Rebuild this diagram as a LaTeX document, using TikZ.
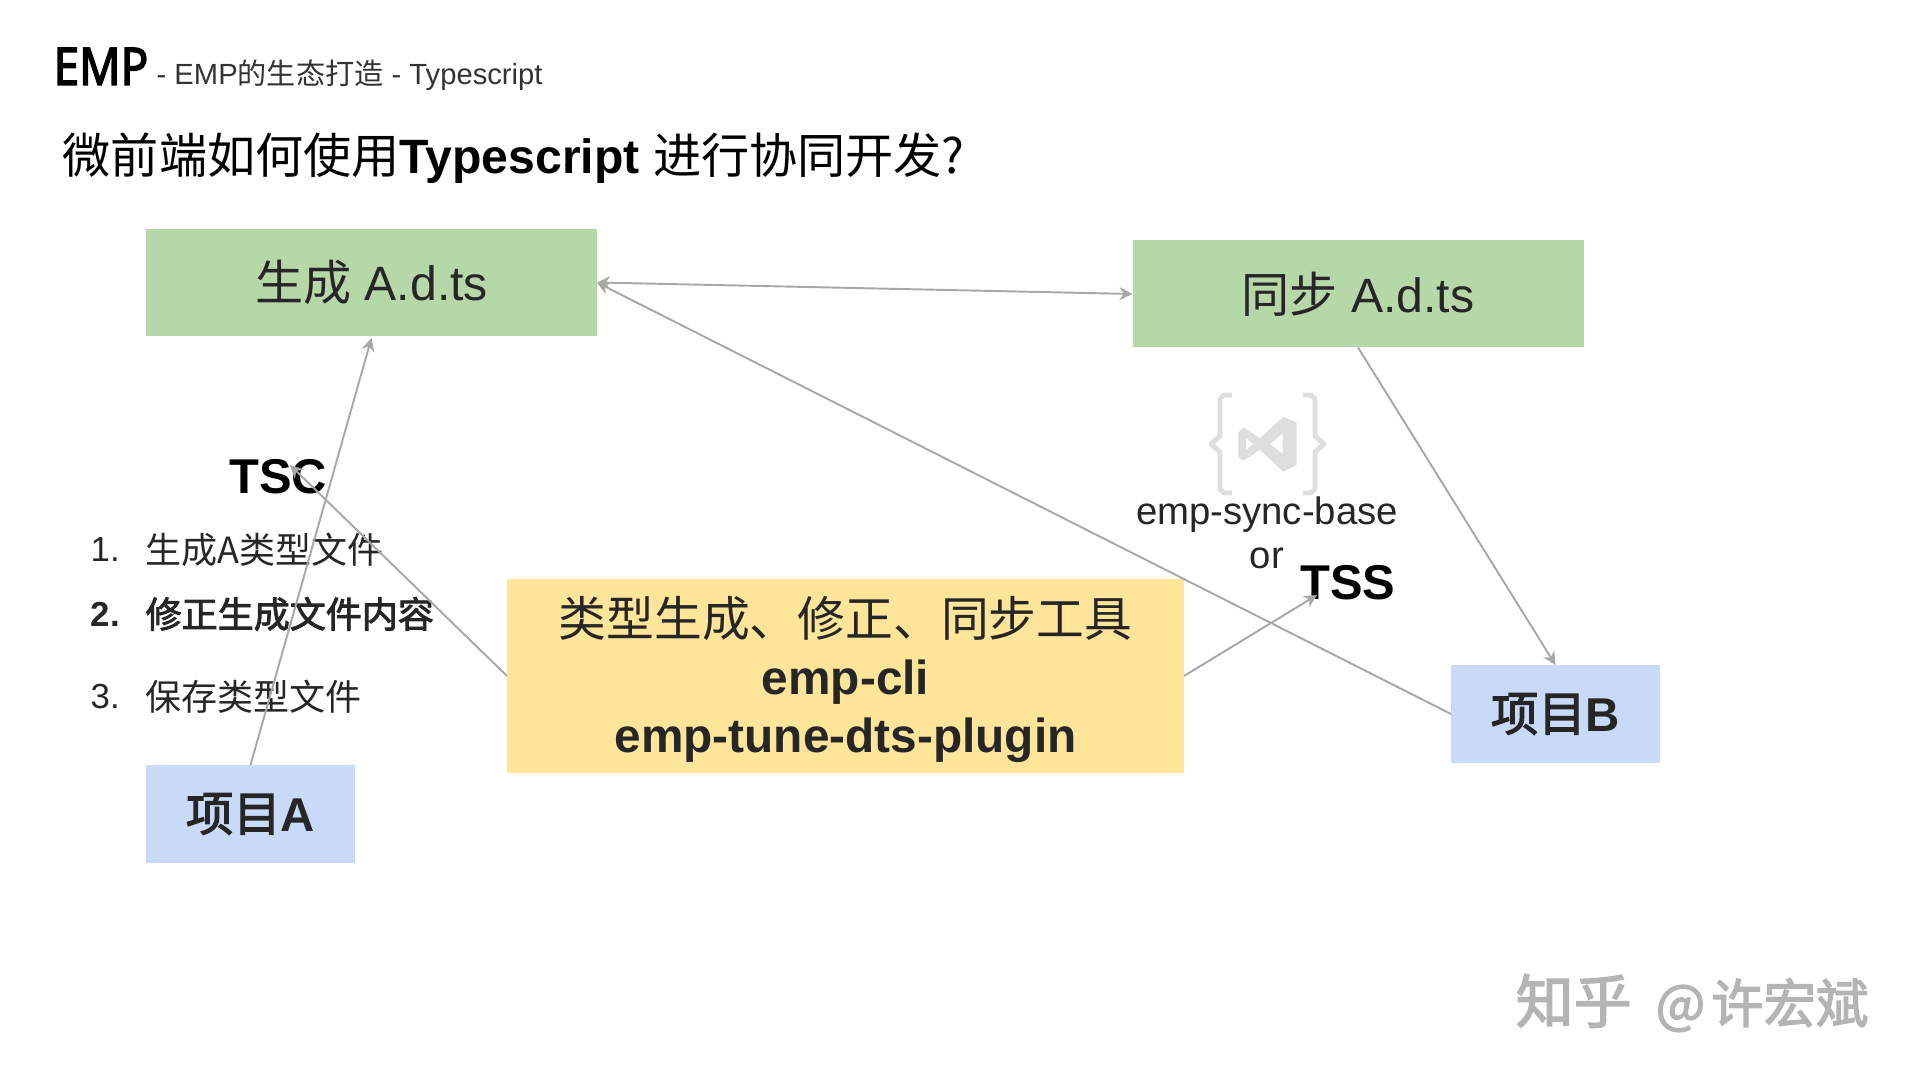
\documentclass[tikz,border=0pt]{standalone}
\usepackage{fontspec}
\usetikzlibrary{arrows.meta}
\setmainfont{Liberation Sans}
\newfontfamily\cjk{Noto Sans CJK SC}
\newfontfamily\cjkb[FakeBold=2.5]{Noto Sans CJK SC}
\newfontfamily\headfont[FakeStretch=0.88,FakeBold=2.5]{Noto Sans}
\definecolor{genGreen}{HTML}{B6D7A8}
\definecolor{toolYellow}{HTML}{FFE599}
\definecolor{projBlue}{HTML}{C9DAF8}
\definecolor{connGray}{HTML}{A8A8A8}
\definecolor{iconGray}{HTML}{DEDEDE}
\definecolor{markGray}{HTML}{B4B4B4}
\tikzset{
    box/.style = {inner sep = 0, outer sep = 0, text = black!85},
    genbox/.style = {box, fill = genGreen, minimum width = 4.51cm, minimum height = 1.07cm, font = \fontsize{13.7}{16}\selectfont},
    projbox/.style = {box, fill = projBlue, minimum width = 2.09cm, minimum height = 0.98cm, font = \fontsize{13.5}{15}\selectfont},
    conn/.style = {draw = connGray, line width = 0.55pt, >={Stealth[length = 1.3mm, width = 1.3mm]}},
    listitem/.style = {anchor = west, inner sep = 0, font = \fontsize{10.25}{12}\selectfont, text = black!85},
    listnum/.style = {listitem, font = \fontsize{9.9}{12}\selectfont}
}
\begin{document}
\begin{tikzpicture}
    \useasboundingbox (0,0) rectangle (19.2,10.8);
    % heading
    \node[anchor = base west, inner sep = 0] (emp) at (0.53,9.95) {\headfont\fontsize{14.8}{16}\selectfont EMP};
    \node[anchor = base west, inner sep = 0, text = black!80] (sub) at (1.56,9.95) {\fontsize{8.3}{10}\selectfont - EMP{\cjk 的生态打造} - Typescript};
    \node[anchor = west, inner sep = 0] (title) at (0.62,9.215) {\fontsize{13.7}{16}\selectfont {\cjk 微前端如何使用}\textbf{Typescript} {\cjk 进行协同开发?}};
    % boxes
    \node[genbox] (gen) at (3.715,7.975) {{\cjk 生成} A.d.ts};
    \node[genbox] (sync) at (13.58,7.86) {{\cjk 同步} A.d.ts};
    \node[box, fill = toolYellow, minimum width = 6.77cm, minimum height = 1.94cm, align = center, font = \fontsize{13.6}{16.6}\selectfont] (tool) at (8.455,4.04)
        {\rule{0pt}{13.5pt}{\cjk 类型生成、修正、同步工具}\\\textbf{emp-cli}\\\textbf{emp-tune-dts-plugin}};
    \node[projbox] (projA) at (2.505,2.66) {{\cjkb 项目}\textbf{A}};
    \node[projbox] (projB) at (15.555,3.66) {{\cjkb 项目}\textbf{B}};
    % labels
    \begin{scope}[every node/.append style = {font = \fontsize{13.9}{16}\selectfont\bfseries, inner sep = 0}]
        \node (tsc) at (2.78,6.03) {TSC};
        \node (tss) at (13.48,4.97) {TSS};
    \end{scope}
    \node[listnum] (num1) at (0.90,5.30) {1.};
    \node[listitem] (item1) at (1.45,5.30) {\cjk 生成A类型文件};
    \node[listnum] (num2) at (0.90,4.66) {\textbf{2.}};
    \node[listitem] (item2) at (1.45,4.66) {\cjkb 修正生成文件内容};
    \node[listnum] (num3) at (0.90,3.83) {3.};
    \node[listitem] (item3) at (1.45,3.83) {\cjk 保存类型文件};
    \begin{scope}[every node/.append style = {font = \fontsize{10.9}{12}\selectfont, inner sep = 0, text = black!85}]
        \node (base) at (12.67,5.65) {emp-sync-base};
        \node (or) at (12.67,5.22) {or};
    \end{scope}
    % sync icon
    \begin{scope}[line width = 1.4pt, line join = round]
        \draw[iconGray] (12.32,6.85) -- (12.24,6.85) -- (12.20,6.81) -- (12.20,6.44) -- (12.11,6.36) -- (12.20,6.28) -- (12.20,5.91) -- (12.24,5.87) -- (12.32,5.87);
        \draw[iconGray] (13.03,6.85) -- (13.11,6.85) -- (13.15,6.81) -- (13.15,6.44) -- (13.24,6.36) -- (13.15,6.28) -- (13.15,5.91) -- (13.11,5.87) -- (13.03,5.87);
    \end{scope}
    \fill[iconGray, even odd rule] (12.833,6.633) -- (12.967,6.573) -- (12.967,6.15) -- (12.833,6.083) -- (12.60,6.30) -- (12.433,6.193) -- (12.383,6.233) -- (12.383,6.473) -- (12.433,6.527) -- (12.60,6.417) -- cycle
        (12.827,6.467) -- (12.70,6.36) -- (12.827,6.26) -- cycle
        (12.46,6.417) -- (12.46,6.30) -- (12.533,6.36) -- cycle;
    % connectors
    \coordinate (tscend) at (2.90,6.15);
    \coordinate (tssend) at (13.17,4.85);
    \draw[conn, <->] (gen.east) -- (sync.west);
    \draw[conn, ->] (projA.north) -- ([yshift = -0.02cm]gen.south);
    \draw[conn, ->] (projB.west) -- (gen.east);
    \draw[conn, ->] (sync.south) -- (projB.north);
    \draw[conn, ->] (tool.west) -- (tscend);
    \draw[conn, ->] (tool.east) -- (tssend);
    % watermark
    \node[anchor = west, inner sep = 0, text = markGray] (mark) at (15.15,0.77) {\cjkb\fontsize{16.5}{18}\selectfont 知乎\hspace{0.24cm}\fontsize{14.9}{18}\selectfont @\hspace{0.06cm}许宏斌};
\end{tikzpicture}
\end{document}
